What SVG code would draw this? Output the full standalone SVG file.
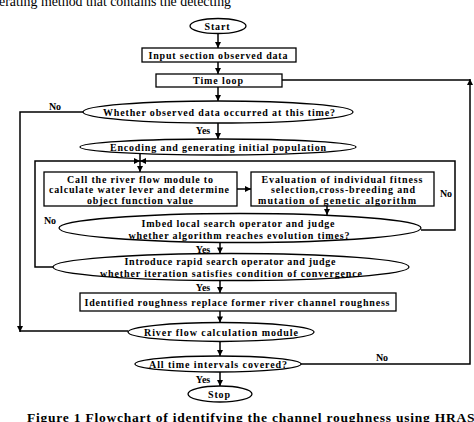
<svg xmlns="http://www.w3.org/2000/svg" width="474" height="422" viewBox="0 0 474 422">
<defs>
<marker id="ah" viewBox="0 0 10 10" refX="10" refY="5" markerWidth="7" markerHeight="6" markerUnits="userSpaceOnUse" orient="auto">
<path d="M0,0 L10,5 L0,10 z" fill="#000"/>
</marker>
<style>
.s{fill:#fff;stroke:#000;stroke-width:1.3}
.c{fill:none;stroke:#000;stroke-width:1.3}
.a{fill:none;stroke:#000;stroke-width:1.5;marker-end:url(#ah)}
.t{font-family:"Liberation Serif","Times New Roman",serif;font-weight:bold;font-size:10px;fill:#000;text-anchor:middle}
.l{font-family:"Liberation Serif","Times New Roman",serif;font-weight:bold;font-size:10px;fill:#000;text-anchor:middle}
.p{font-family:"Liberation Serif","Times New Roman",serif;font-size:15px;fill:#000}
.cap{font-family:"Liberation Serif","Times New Roman",serif;font-weight:bold;font-size:13.5px;fill:#000}
</style>
</defs>
<rect width="474" height="422" fill="#fff"/>
<text class="p" x="-1" y="5.5" textLength="232" lengthAdjust="spacingAndGlyphs">erating method that contains the detecting</text>

<g id="connectors">
<path class="a" d="M218,33.5 V48"/>
<path class="a" d="M218,62 V74"/>
<path class="a" d="M218,87 V101"/>
<path class="a" d="M218,123 V139"/>
<path class="a" d="M140,154 V172"/>
<path class="a" d="M53,267 H35 V161 H140"/>
<path class="a" d="M421,230 H455 V161 H140"/>
<path class="a" d="M237,189 H251"/>
<path class="a" d="M327,206 V215"/>
<path class="a" d="M220,242.5 V253.5"/>
<path class="a" d="M220,280.5 V293"/>
<path class="a" d="M220,311 V322.5"/>
<path class="a" d="M220,341.5 V356"/>
<path class="a" d="M220,372 V386"/>
<path class="c" d="M282,80 H470"/>
<path class="a" d="M301,364 H470 V79"/>
<path class="a" d="M83,112 H20 V332"/>
<path class="c" d="M20,331 H128"/>
<text class="l" x="55" y="109.5">No</text>
<text class="l" x="203" y="133.5">Yes</text>
<text class="l" x="446" y="196.5">No</text>
<text class="l" x="50" y="223.5">No</text>
<text class="l" x="203" y="252.5">Yes</text>
<text class="l" x="203" y="290.5">Yes</text>
<text class="l" x="382" y="360.5">No</text>
<text class="l" x="203" y="382.5">Yes</text>
</g>

<g id="start">
<ellipse class="s" cx="218" cy="26" rx="28" ry="7.5"/>
<text class="t" x="217" y="29.5" textLength="25">Start</text>
</g>
<g id="input">
<rect class="s" x="142" y="48" width="154" height="14"/>
<text class="t" x="218" y="58.5" textLength="139">Input section observed data</text>
</g>
<g id="timeloop">
<rect class="s" x="156" y="74" width="126" height="13"/>
<text class="t" x="218" y="84" textLength="50">Time loop</text>
</g>
<g id="whether">
<ellipse class="s" cx="218" cy="112" rx="135" ry="11"/>
<text class="t" x="219" y="115.5" textLength="232">Whether observed data occurred at this time?</text>
</g>
<g id="encoding">
<ellipse class="s" cx="218" cy="147" rx="138" ry="8"/>
<text class="t" x="218" y="150.5" textLength="216">Encoding and generating initial population</text>
</g>
<g id="call">
<rect class="s" x="44" y="172" width="193" height="34"/>
<text class="t" x="140" y="182.5" textLength="146">Call the river flow module to</text>
<text class="t" x="139" y="193" textLength="180">calculate water lever and determine</text>
<text class="t" x="140" y="204" textLength="106">object function value</text>
</g>
<g id="evaluation">
<rect class="s" x="251" y="172" width="183" height="34"/>
<text class="t" x="342" y="182.5" textLength="161">Evaluation of individual  fitness</text>
<text class="t" x="343" y="193" textLength="144">selection,cross-breeding and</text>
<text class="t" x="337" y="204" textLength="158">mutation of genetic algorithm</text>
</g>
<g id="imbed">
<ellipse class="s" cx="240" cy="228" rx="181" ry="14.5"/>
<text class="t" x="238" y="226.5" textLength="193">Imbed local search operator and judge</text>
<text class="t" x="239" y="238.5" textLength="221">whether algorithm reaches evolution times?</text>
</g>
<g id="introduce">
<ellipse class="s" cx="231" cy="267" rx="178" ry="13.5"/>
<text class="t" x="230" y="264.5" textLength="211">Introduce rapid search operator and judge</text>
<text class="t" x="231" y="276.5" textLength="262">whether iteration satisfies condition of convergence</text>
</g>
<g id="identified">
<rect class="s" x="80" y="293" width="316" height="18"/>
<text class="t" x="237" y="305.5" textLength="305">Identified roughness replace former river channel roughness</text>
</g>
<g id="river">
<ellipse class="s" cx="221" cy="332" rx="93" ry="9.5"/>
<text class="t" x="221" y="335.5" textLength="154">River flow calculation module</text>
</g>
<g id="alltime">
<ellipse class="s" cx="218" cy="364" rx="83" ry="8"/>
<text class="t" x="218" y="367.5" textLength="138">All time intervals covered?</text>
</g>
<g id="stop">
<ellipse class="s" cx="220" cy="394" rx="32" ry="8"/>
<text class="t" x="219" y="397.5" textLength="22">Stop</text>
</g>
<text class="cap" x="27" y="422" textLength="458" lengthAdjust="spacing">Figure 1 Flowchart of identifying the channel roughness using HRASA</text>
</svg>
